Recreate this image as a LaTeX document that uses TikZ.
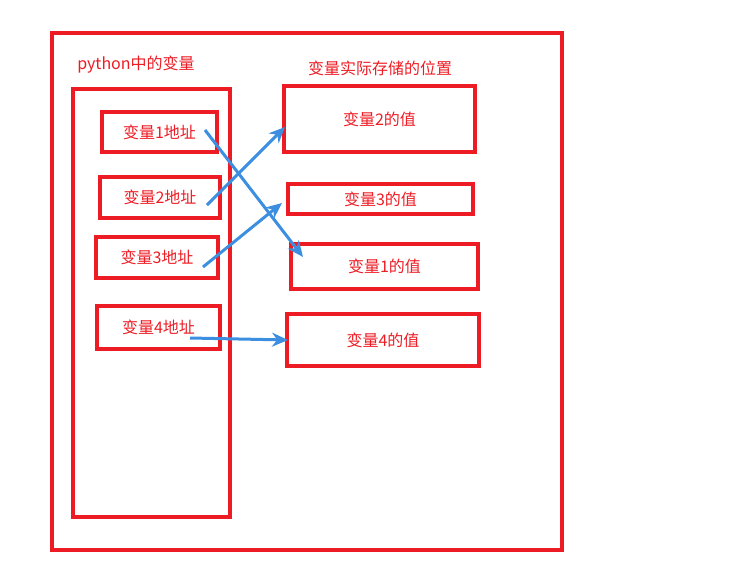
\documentclass[tikz,border=0pt]{standalone}
\usepackage{fontspec}
\setmainfont{Noto Sans CJK SC}
\usetikzlibrary{arrows.meta,positioning}
\definecolor{boxred}{HTML}{ED1C24}
\definecolor{arrowblue}{HTML}{3C8FE0}
\tikzset{
  redbox/.style={draw=boxred, line width=3.5pt, inner sep=0pt},
  addr/.style={redbox, text=boxred, font=\fontsize{16}{18}\selectfont},
  valbox/.style={redbox, text=boxred, font=\fontsize{16}{18}\selectfont},
  ptr/.style={draw=arrowblue, line width=3pt, -{Stealth[length=16pt,width=14pt]}}
}
\begin{document}
\begin{tikzpicture}[x=1pt,y=-1pt]
  \useasboundingbox (0,0) rectangle (735,581);
  % frames
  \draw[redbox] (52,33) rectangle (562,550);
  \draw[redbox] (73,89) rectangle (230,517);
  \node[text=boxred, font=\fontsize{16}{18}\selectfont] (pyvars) at (136,65) {python中的变量};
  \node[text=boxred, font=\fontsize{16}{18}\selectfont] (store) at (380,68) {变量实际存储的位置};
  % addresses
  \node[addr, minimum width=115, minimum height=40] (addr1) at (159.5,132) {变量1地址};
  \node[addr, minimum width=120, minimum height=41] (addr2) at (160,197.5) {变量2地址};
  \node[addr, minimum width=122, minimum height=41] (addr3) at (157,257.5) {变量3地址};
  \node[addr, minimum width=123, minimum height=43] (addr4) at (158.5,327.5) {变量4地址};
  % values
  \node[valbox, minimum width=191, minimum height=66] (val2) at (379.5,119) {变量2的值};
  \node[valbox, minimum width=185, minimum height=30] (val3) at (380.5,199) {变量3的值};
  \node[valbox, minimum width=187, minimum height=45] (val1) at (384.5,266.5) {变量1的值};
  \node[valbox, minimum width=192, minimum height=52] (val4) at (383,340) {变量4的值};
  % pointer ends
  \coordinate (p1) at (205,130);
  \coordinate (p2) at (207,205);
  \coordinate (p3) at (203,267);
  \coordinate (p4) at (190,338);
  \coordinate (q1) at (303,257);
  \coordinate (q2) at (285,127);
  \coordinate (q3) at (282,203);
  \coordinate (q4) at (288,340);
  % pointers
  \draw[ptr] (p1) -- (q1);
  \draw[ptr] (p2) -- (q2);
  \draw[ptr] (p3) -- (q3);
  \draw[ptr] (p4) -- (q4);
\end{tikzpicture}
\end{document}
